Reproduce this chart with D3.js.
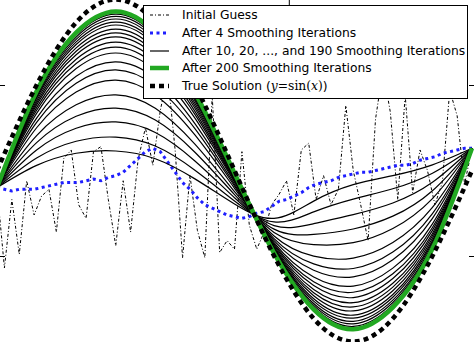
<!DOCTYPE html>
<html>
<head>
<meta charset="utf-8">
<script src="https://cdn.jsdelivr.net/npm/d3@7"></script>
<style>
  body { margin: 0; background: #fff; }
  svg { display: block; }
</style>
</head>
<body>
<div id="chart"></div>
<script>
// x samples for the smooth curves (0 .. 2pi, step pi/6)
var xCoarse = [0, 0.524, 1.047, 1.571, 2.094, 2.618, 3.142, 3.665, 4.189, 4.712, 5.236, 5.760, 6.283];

// true solution y = sin(x) read at the coarse samples
var trueSolution = [0, 0.5, 0.866, 1, 0.866, 0.5, 0, -0.5, -0.866, -1, -0.866, -0.5, 0];

// noisy initial guess, 65 grid points over [0, 2pi]
var initialGuess = [-0.10, -0.57, -0.17, -0.49, -0.06, -0.26, -0.15, -0.11, -0.36, 0.07,
  0.12, -0.20, -0.28, 0.11, 0.14, -0.17, -0.44, -0.06, -0.36, 0.06,
  0.25, 0.03, 0.35, 0.56, 0.12, -0.51, -0.03, -0.35, -0.51, 0.44,
  -0.48, -0.41, -0.46, 0.11, -0.32, -0.46, -0.36, -0.20, -0.14, -0.06,
  -0.26, 0.12, 0.16, -0.17, -0.03, -0.20, -0.11, 0.38, 0.00, -0.20,
  -0.41, 0.30, 0.59, 0.34, -0.17, 0.44, -0.13, 0.12, 0.00, -0.20,
  -0.07, 0.47, 0.32, -0.08, 0.13];

// after 4 smoothing iterations, same grid
var after4 = [-0.10, -0.11, -0.12, -0.11, -0.11, -0.11, -0.10, -0.09, -0.08, -0.07,
  -0.07, -0.07, -0.06, -0.05, -0.06, -0.04, -0.03, -0.01, 0.03, 0.07,
  0.11, 0.13, 0.11, 0.05, -0.01, -0.07, -0.11, -0.16, -0.20, -0.22,
  -0.24, -0.26, -0.27, -0.28, -0.27, -0.25, -0.24, -0.21, -0.18, -0.17,
  -0.15, -0.13, -0.10, -0.08, -0.07, -0.06, -0.04, -0.03, -0.02, -0.01,
  -0.01, 0.00, 0.01, 0.02, 0.03, 0.03, 0.04, 0.06, 0.07, 0.08,
  0.10, 0.11, 0.12, 0.13, 0.13];

// after 10, 20, ..., 190 smoothing iterations (coarse samples)
var after10to190 = [
  [-0.10, 0.030, 0.101, 0.114, 0.069, -0.049, -0.196, -0.280, -0.179, -0.083, -0.030, 0.033, 0.13],
  [-0.10, 0.073, 0.171, 0.195, 0.143, 0.002, -0.178, -0.301, -0.242, -0.167, -0.107, -0.016, 0.13],
  [-0.10, 0.120, 0.247, 0.284, 0.222, 0.056, -0.159, -0.322, -0.311, -0.258, -0.190, -0.069, 0.13],
  [-0.10, 0.163, 0.317, 0.365, 0.295, 0.107, -0.141, -0.343, -0.374, -0.342, -0.267, -0.118, 0.13],
  [-0.10, 0.204, 0.384, 0.442, 0.364, 0.154, -0.124, -0.362, -0.433, -0.422, -0.339, -0.164, 0.13],
  [-0.10, 0.250, 0.459, 0.529, 0.442, 0.208, -0.104, -0.383, -0.501, -0.512, -0.421, -0.216, 0.13],
  [-0.10, 0.281, 0.510, 0.588, 0.495, 0.245, -0.091, -0.398, -0.546, -0.573, -0.477, -0.252, 0.13],
  [-0.10, 0.306, 0.551, 0.635, 0.538, 0.274, -0.081, -0.410, -0.583, -0.622, -0.522, -0.280, 0.13],
  [-0.10, 0.334, 0.596, 0.687, 0.585, 0.306, -0.069, -0.422, -0.623, -0.676, -0.571, -0.312, 0.13],
  [-0.10, 0.352, 0.626, 0.722, 0.616, 0.328, -0.062, -0.431, -0.651, -0.712, -0.604, -0.333, 0.13],
  [-0.10, 0.368, 0.651, 0.751, 0.643, 0.346, -0.055, -0.438, -0.673, -0.743, -0.632, -0.350, 0.13],
  [-0.10, 0.384, 0.677, 0.781, 0.669, 0.364, -0.049, -0.446, -0.696, -0.773, -0.659, -0.368, 0.13],
  [-0.10, 0.396, 0.697, 0.805, 0.690, 0.379, -0.043, -0.452, -0.715, -0.798, -0.682, -0.382, 0.13],
  [-0.10, 0.408, 0.717, 0.827, 0.711, 0.393, -0.038, -0.457, -0.732, -0.821, -0.703, -0.396, 0.13],
  [-0.10, 0.421, 0.737, 0.851, 0.732, 0.408, -0.033, -0.463, -0.750, -0.846, -0.725, -0.410, 0.13],
  [-0.10, 0.430, 0.752, 0.868, 0.747, 0.418, -0.029, -0.467, -0.764, -0.863, -0.741, -0.420, 0.13],
  [-0.10, 0.439, 0.767, 0.886, 0.763, 0.429, -0.025, -0.472, -0.778, -0.882, -0.758, -0.431, 0.13],
  [-0.10, 0.447, 0.780, 0.901, 0.777, 0.438, -0.022, -0.475, -0.789, -0.897, -0.772, -0.440, 0.13],
  [-0.10, 0.455, 0.793, 0.915, 0.790, 0.448, -0.019, -0.479, -0.800, -0.912, -0.786, -0.449, 0.13]
];

// after 200 smoothing iterations
var after200 = [-0.10, 0.463, 0.806, 0.930, 0.803, 0.457, -0.016, -0.483, -0.812, -0.928, -0.800, -0.458, 0.13];

var legendLabels = ["Initial Guess", "After 4 Smoothing Iterations",
  "After 10, 20, ..., and 190 Smoothing Iterations", "After 200 Smoothing Iterations"];

var yTicks = [-0.5, 0.5];
var xTicks = [3.86];

var w = 474, h = 342;

var x = d3.scaleLinear().domain([0, 2 * Math.PI]).range([-3, 472]);
var y = d3.scaleLinear().domain([-1, 1]).range([341.5, -0.5]);

var svg = d3.select("#chart").append("svg")
  .attr("width", w)
  .attr("height", h)
  .style("font-family", "'DejaVu Sans', sans-serif");

var gridStep = 2 * Math.PI / (initialGuess.length - 1);

var fineLine = d3.line()
  .x(function (d, i) { return x(i * gridStep); })
  .y(function (d) { return y(d); });

var smoothLine = d3.line()
  .x(function (d, i) { return x(xCoarse[i]); })
  .y(function (d) { return y(d); })
  .curve(d3.curveNatural);

// initial guess
svg.append("path")
  .attr("d", fineLine(initialGuess))
  .attr("fill", "none")
  .attr("stroke", "#000")
  .attr("stroke-width", 1)
  .attr("stroke-dasharray", "3,2,1,2");

// 4 iterations
svg.append("path")
  .attr("d", fineLine(after4))
  .attr("fill", "none")
  .attr("stroke", "#1f1fff")
  .attr("stroke-width", 3)
  .attr("stroke-dasharray", "3,3.5");

// 10 .. 190 iterations
svg.selectAll("path.iter")
  .data(after10to190)
  .enter()
  .append("path")
  .attr("class", "iter")
  .attr("d", function (d) { return smoothLine(d); })
  .attr("fill", "none")
  .attr("stroke", "#000")
  .attr("stroke-width", 1.2);

// 200 iterations
svg.append("path")
  .attr("d", smoothLine(after200))
  .attr("fill", "none")
  .attr("stroke", "#22a822")
  .attr("stroke-width", 4.5);

// true solution
svg.append("path")
  .attr("d", smoothLine(trueSolution))
  .attr("fill", "none")
  .attr("stroke", "#000")
  .attr("stroke-width", 4.5)
  .attr("stroke-dasharray", "5,4");

// inward ticks (the frame itself is cropped off)
svg.append("g")
  .call(d3.axisLeft(y).tickValues(yTicks).tickSize(-5).tickFormat(""))
  .call(function (g) { g.select(".domain").remove(); });
svg.append("g")
  .attr("transform", "translate(" + w + ",0)")
  .call(d3.axisRight(y).tickValues(yTicks).tickSize(-5).tickFormat(""))
  .call(function (g) { g.select(".domain").remove(); });
svg.append("g")
  .call(d3.axisTop(x).tickValues(xTicks).tickSize(-5).tickFormat(""))
  .call(function (g) { g.select(".domain").remove(); });

// legend
var lg = svg.append("g");
lg.append("rect")
  .attr("x", 143.5).attr("y", 5.5)
  .attr("width", 324).attr("height", 93)
  .attr("fill", "#fff")
  .attr("stroke", "#000")
  .attr("stroke-width", 1);

var rowY = [15, 33, 51, 68, 86];
var handles = [
  { stroke: "#000", width: 1, dash: "3,2,1,2" },
  { stroke: "#1f1fff", width: 3, dash: "3,3.5" },
  { stroke: "#000", width: 1.2, dash: null },
  { stroke: "#22a822", width: 4.5, dash: null },
  { stroke: "#000", width: 4.5, dash: "5,4" }
];
handles.forEach(function (hd, i) {
  lg.append("line")
    .attr("x1", 150).attr("x2", 169)
    .attr("y1", rowY[i]).attr("y2", rowY[i])
    .attr("stroke", hd.stroke)
    .attr("stroke-width", hd.width)
    .attr("stroke-dasharray", hd.dash);
});

legendLabels.forEach(function (t, i) {
  lg.append("text")
    .attr("x", 182).attr("y", rowY[i])
    .attr("dy", "0.36em")
    .attr("font-size", 12.3)
    .text(t);
});

var last = lg.append("text")
  .attr("x", 182).attr("y", rowY[4])
  .attr("dy", "0.36em")
  .attr("font-size", 12.3);
last.append("tspan").text("True Solution (");
last.append("tspan").attr("font-family", "'DejaVu Serif', serif").attr("font-style", "italic").text("y");
last.append("tspan").attr("font-family", "'DejaVu Serif', serif").text("=sin(");
last.append("tspan").attr("font-family", "'DejaVu Serif', serif").attr("font-style", "italic").text("x");
last.append("tspan").attr("font-family", "'DejaVu Serif', serif").text(")");
last.append("tspan").text(")");
</script>
</body>
</html>
